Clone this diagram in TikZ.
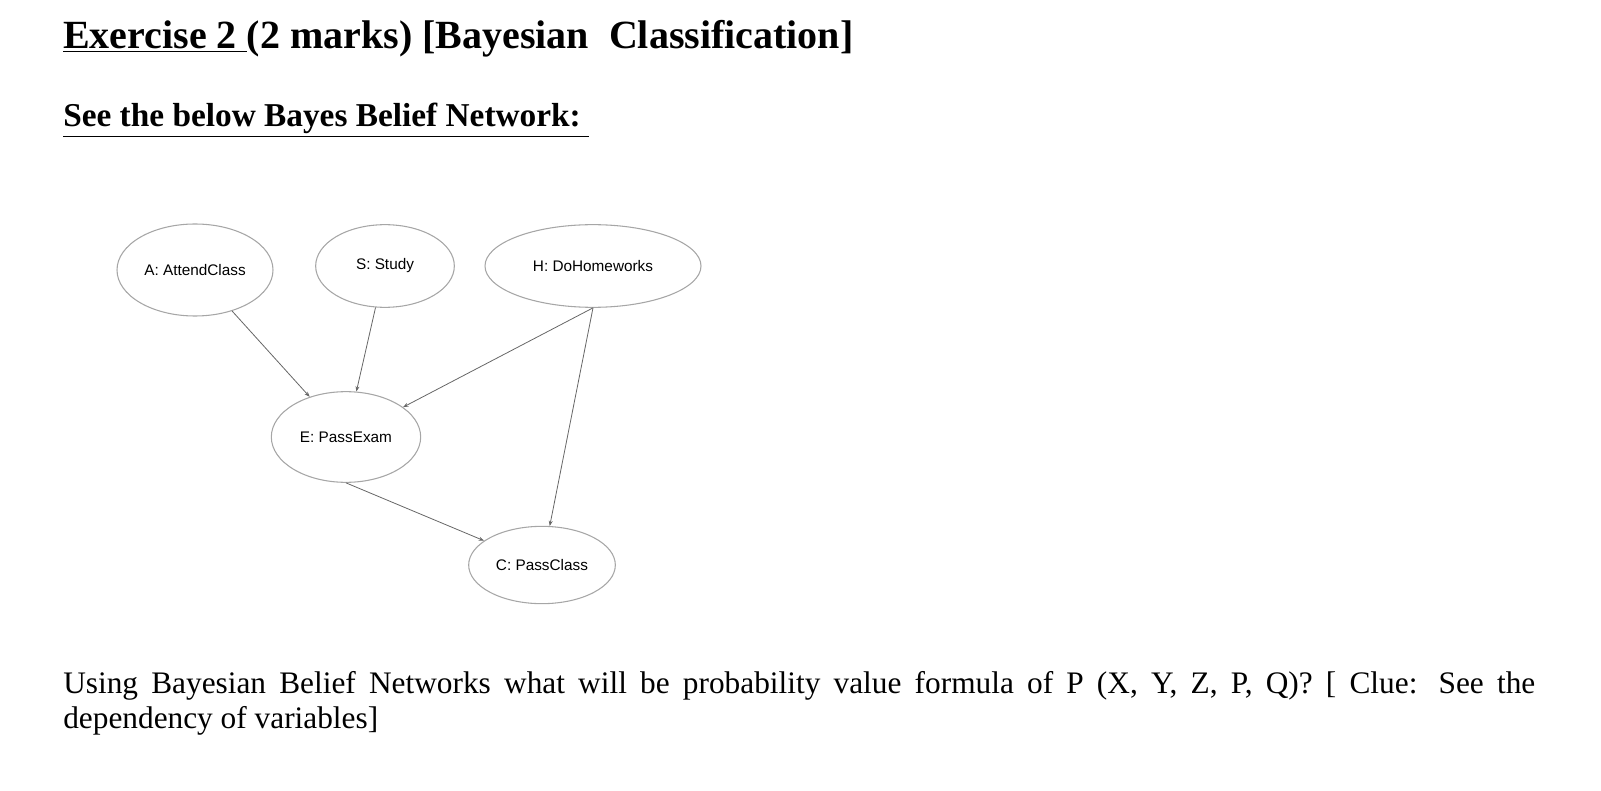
\documentclass[tikz,border=0pt]{standalone}
\usepackage{fontspec}
\setmainfont{Liberation Serif}
\newfontfamily\arialf{Liberation Sans}
\usetikzlibrary{shapes.geometric,arrows.meta}
\begin{document}
\begin{tikzpicture}[x=0.75pt,y=-0.75pt,
  bn/.style={ellipse,draw=gray!70,line width=0.8pt,inner sep=0pt,font=\arialf\fontsize{11.5}{13}\selectfont},
  edge/.style={draw=gray!80!black,line width=0.6pt,-{Stealth[length=4pt,width=3pt]}}]
\useasboundingbox (0,0) rectangle (1601,791);
\node[anchor=base west,font=\bfseries\fontsize{30}{34}\selectfont,inner sep=0pt] (title) at (63,49) {\underline{Exercise 2 }(2 marks) [Bayesian\ \ Classification]};
\node[anchor=base west,font=\bfseries\fontsize{25}{28}\selectfont,inner sep=0pt] (sub) at (63,127) {\underline{See the below Bayes Belief Network:\ }};
\node[bn,minimum width=117pt,minimum height=69pt] (A) at (195,270) {A: AttendClass};
\node[bn,minimum width=104pt,minimum height=62pt] (S) at (385,266) {S: Study};
\node[bn,minimum width=162pt,minimum height=62pt] (H) at (593,266) {H: DoHomeworks};
\node[bn,minimum width=112pt,minimum height=68pt] (E) at (346,437) {E: PassExam};
\node[bn,minimum width=110pt,minimum height=58pt] (C) at (542,565) {C: PassClass};
\draw[edge] (A) -- (E);
\draw[edge] (S) -- (E);
\draw[edge] (H.south) -- (E);
\draw[edge] (H.south) -- (C);
\draw[edge] (E.south) -- (C);
\node[anchor=north west,inner sep=0pt,text width=1104pt,align=justify,font=\fontsize{23.5}{26}\selectfont] (q) at (63,671) {Using Bayesian Belief Networks what will be probability value formula of P (X, Y, Z, P, Q)? [ Clue: See the\linebreak dependency of variables]};
\end{tikzpicture}
\end{document}
